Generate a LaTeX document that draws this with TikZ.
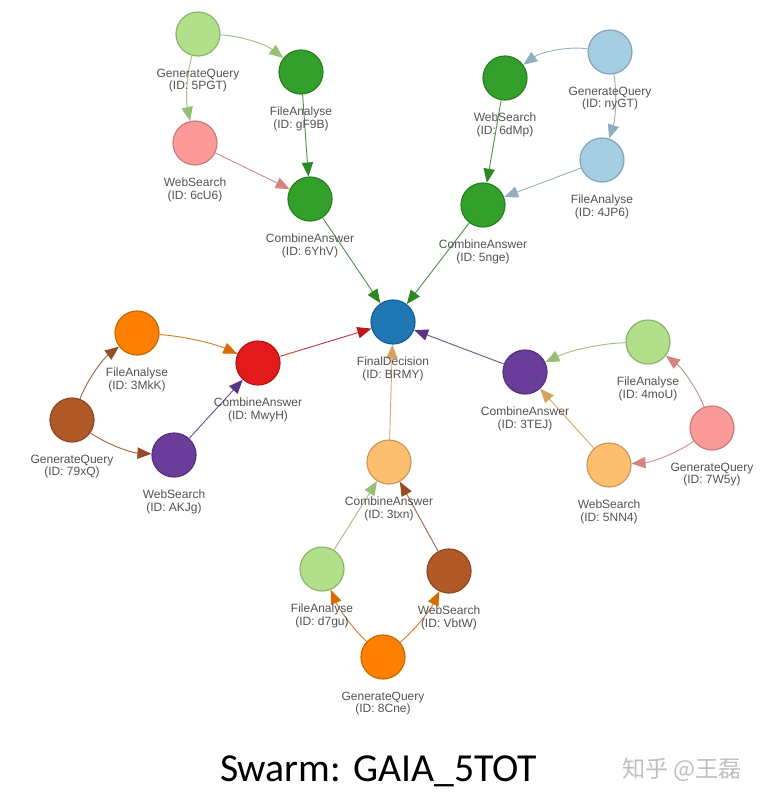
\documentclass[tikz,border=0pt]{standalone}
\usepackage{fontspec}
\setmainfont{Liberation Sans}
\newfontfamily\titlefont{Carlito}
\newfontfamily\cjkfont{Noto Sans CJK SC}
\usetikzlibrary{arrows.meta}

\definecolor{ltblue}{HTML}{A6CEE3}
\definecolor{blue}{HTML}{1F78B4}
\definecolor{ltgreen}{HTML}{B2DF8A}
\definecolor{green}{HTML}{33A02C}
\definecolor{pink}{HTML}{FB9A99}
\definecolor{red}{HTML}{E31A1C}
\definecolor{ltorange}{HTML}{FDBF6F}
\definecolor{orange}{HTML}{FF7F00}
\definecolor{purple}{HTML}{6A3D9A}
\definecolor{brown}{HTML}{B15928}

\tikzset{
	agent/.style={circle, minimum size=33pt, inner sep=0pt, line width=0.9pt},
	agentlabel/.style={align=center, font=\fontsize{9}{9.4}\selectfont, text=black!68},
	flow/.style={line width=0.7pt, looseness=0.8}
}

\begin{document}
\begin{tikzpicture}[x=0.75pt, y=-0.75pt]
\useasboundingbox (0,0) rectangle (760,801);

\foreach \id/\x/\y/\col in {
	5PGT/198/34/ltgreen, gF9B/301/72/green, 6cU6/195/143/pink, 6YhV/310/199/green,
	6dMp/505/78/green, nyGT/610/52/ltblue, 4JP6/602/160/ltblue, 5nge/483/205/green,
	BRMY/393/322/blue,
	3MkK/137/333/orange, MwyH/258/363/red, 79xQ/72/420/brown, AKJg/174/455/purple,
	3TEJ/525/372/purple, 4moU/648/342/ltgreen, 7W5y/712/428/pink, 5NN4/609/465/ltorange,
	3txn/389/462/ltorange, d7gu/322/569/ltgreen, VbtW/449/571/brown, 8Cne/383/657/orange} {
	\node[agent, fill=\col, draw=\col!80!black] (\id) at (\x,\y) {};
}

% edges take the colour of the node they leave
\foreach \from/\to/\col/\bend in {
	5PGT/gF9B/ltgreen/18, 5PGT/6cU6/ltgreen/-14, 6cU6/6YhV/pink/0, gF9B/6YhV/green/0,
	6YhV/BRMY/green/0, 5nge/BRMY/green/0,
	nyGT/6dMp/ltblue/-22, nyGT/4JP6/ltblue/14, 4JP6/5nge/ltblue/0, 6dMp/5nge/green/0,
	79xQ/3MkK/brown/16, 79xQ/AKJg/brown/-16, 3MkK/MwyH/orange/10, AKJg/MwyH/purple/0,
	MwyH/BRMY/red/0, 3TEJ/BRMY/purple/0,
	4moU/3TEJ/ltgreen/-12, 7W5y/4moU/pink/-16, 7W5y/5NN4/pink/16, 5NN4/3TEJ/ltorange/0,
	3txn/BRMY/ltorange/0, d7gu/3txn/ltgreen/0, VbtW/3txn/brown/0,
	8Cne/d7gu/orange/12, 8Cne/VbtW/orange/-12} {
	\draw[flow, draw=\col!65!gray, -{Triangle[length=10.5pt, width=8.5pt, color=\col!85!black]}]
		(\from) to[bend left=\bend] (\to);
}

\foreach \id/\kind in {
	5PGT/GenerateQuery, gF9B/FileAnalyse, 6cU6/WebSearch, 6YhV/CombineAnswer,
	6dMp/WebSearch, nyGT/GenerateQuery, 4JP6/FileAnalyse, 5nge/CombineAnswer,
	BRMY/FinalDecision,
	3MkK/FileAnalyse, MwyH/CombineAnswer, 79xQ/GenerateQuery, AKJg/WebSearch,
	3TEJ/CombineAnswer, 4moU/FileAnalyse, 7W5y/GenerateQuery, 5NN4/WebSearch,
	3txn/CombineAnswer, d7gu/FileAnalyse, VbtW/WebSearch, 8Cne/GenerateQuery} {
	\node[agentlabel, below=0pt] (lab\id) at ([yshift=-5.75pt]\id.south) {\kind\\(ID: \id)};
}

\node[font=\titlefont\fontsize{29.8}{29.8}\selectfont, text=black] (title) at (378.5,771) {Swarm: GAIA\_5TOT};
\node[font=\cjkfont\fontsize{17.4}{17.4}\selectfont, text=black!25] (mark) at (682,770) {知乎 @王磊};
\end{tikzpicture}
\end{document}
